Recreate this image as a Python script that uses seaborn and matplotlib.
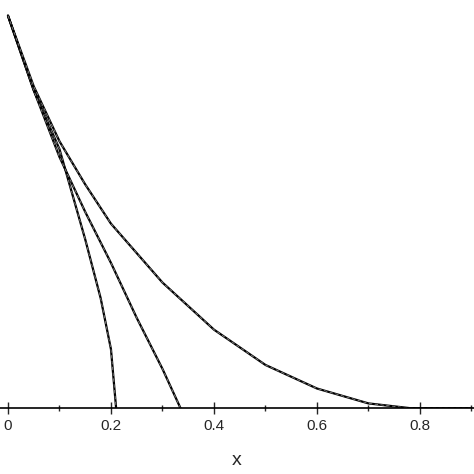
import numpy as np
import pandas as pd
import matplotlib
matplotlib.use("Agg")
import matplotlib.pyplot as plt
import seaborn as sns
from matplotlib.ticker import MultipleLocator

# Values
x1 = [0.0, 0.05, 0.1, 0.15, 0.18, 0.2, 0.21]
y1 = [1.0, 0.81, 0.66, 0.43, 0.28, 0.15, 0.0]
x2 = [0.0, 0.05, 0.1, 0.15, 0.2, 0.25, 0.3, 0.335]
y2 = [1.0, 0.81, 0.64, 0.5, 0.37, 0.23, 0.1, 0.0]
x3 = [0.0, 0.05, 0.1, 0.15, 0.2, 0.3, 0.4, 0.5, 0.6, 0.7, 0.78, 0.9]
y3 = [1.0, 0.82, 0.68, 0.57, 0.47, 0.32, 0.2, 0.11, 0.05, 0.012, 0.0, 0.0]

sns.set_style("white")
plt.rcParams["font.family"] = ["Liberation Sans", "DejaVu Sans"]

fig = plt.figure(figsize=(4.74, 4.74), dpi=100)
ax = fig.add_axes([0, 0.139, 1, 0.861])

for xs, ys in [(x1, y1), (x2, y2), (x3, y3)]:
    df = pd.DataFrame({"x": xs, "y": ys})
    sns.lineplot(data=df, x="x", y="y", ax=ax, color="black", lw=1.6, sort=False)
    sns.lineplot(data=df, x="x", y="y", ax=ax, color="#888888", lw=0.6,
                 linestyle=(0, (4, 3)), sort=False)

ax.set_xlim(-0.0155, 0.905)
ax.set_ylim(0, 1.04)
for s in ["left", "right", "top"]:
    ax.spines[s].set_visible(False)
ax.spines["bottom"].set_linewidth(1.2)
ax.spines["bottom"].set_color("black")
ax.set_yticks([])
ax.xaxis.set_major_locator(MultipleLocator(0.2))
ax.xaxis.set_minor_locator(MultipleLocator(0.1))
ax.tick_params(axis="x", which="major", direction="inout", length=8, width=1, bottom=True, labelsize=11)
ax.tick_params(axis="x", which="minor", direction="inout", length=5, width=1, bottom=True)
ax.set_xticklabels(["", "0", "0.2", "0.4", "0.6", "0.8", ""][: len(ax.get_xticks())])
ax.set_xticks([0, 0.2, 0.4, 0.6, 0.8])
ax.set_xticklabels(["0", "0.2", "0.4", "0.6", "0.8"])
ax.set_xlabel("x", fontsize=14, labelpad=14)
ax.set_ylabel("")

fig.savefig("out.png", dpi=100)
